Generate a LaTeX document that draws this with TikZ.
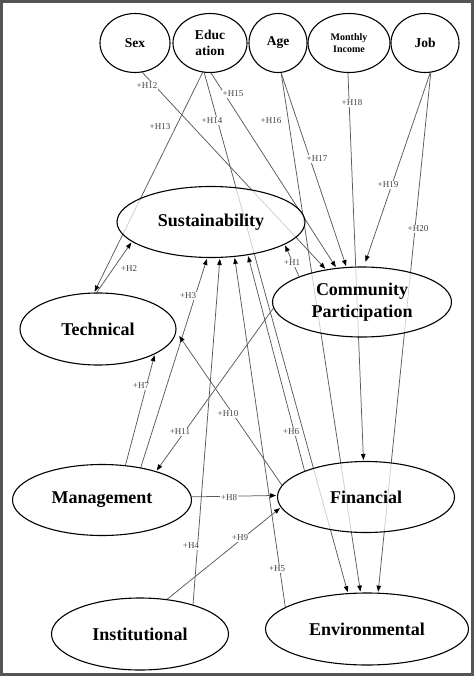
\documentclass[tikz,border=0pt]{standalone}
\usepackage{fontspec}
\setmainfont{Liberation Serif}
\usetikzlibrary{arrows.meta,shapes.geometric,backgrounds}
\definecolor{framegray}{RGB}{85,85,85}
\definecolor{linkgray}{RGB}{90,90,90}
\definecolor{labelgray}{RGB}{65,65,65}
\tikzset{
  construct/.style={ellipse, draw=black, line width=1.1pt, fill=white, fill opacity=0.7, text opacity=1,
    inner sep=1pt, align=center, font=\fontsize{18}{21.5}\selectfont\bfseries},
  demog/.style={construct, minimum height=59pt, font=\fontsize{13.5}{16}\selectfont\bfseries},
  hyp/.style={draw=linkgray, line width=0.75pt, shorten >=1pt, -{Triangle[length=6pt,width=4.5pt,color=black]}},
  hlab/.style={fill=white, inner sep=1pt, text=labelgray, font=\fontsize{9}{10}\selectfont},
}
\begin{document}
\begin{tikzpicture}[x=1pt, y=-1pt]
\useasboundingbox (0,0) rectangle (474,676);
% demographic variables
\foreach \nm/\x/\w/\txt in {sex/135/70/Sex, edu/210/74/{Educ\\ation}, age/278/58/Age, job/425/68/Job}
  \node[demog, minimum width=\w pt] (\nm) at (\x,43) {\txt};
\node[demog, minimum width=82pt, font=\fontsize{10}{12}\selectfont\bfseries] (inc) at (349,43) {Monthly\\Income};
% constructs
\node[construct, minimum width=188pt, minimum height=71pt] (sust) at (211,222) {Sustainability};
\node[construct, minimum width=179pt, minimum height=70pt] (cp) at (362,302) {Community\\Participation};
\node[construct, minimum width=156pt, minimum height=72pt] (tech) at (98,329) {Technical};
\node[construct, minimum width=179pt, minimum height=71pt] (mgmt) at (102,500) {Management};
\node[construct, minimum width=177pt, minimum height=71pt] (fin) at (366,497) {Financial};
\node[construct, minimum width=177pt, minimum height=72pt] (inst) at (140,634) {Institutional};
\node[construct, minimum width=203pt, minimum height=72pt] (env) at (367,629) {Environmental};
% hypotheses
\begin{scope}[on background layer]
\foreach \a/\p/\b/\q in {cp/158/sust/343, tech/92/sust/194, mgmt/40/sust/264, inst/29/sust/284,
    env/165/sust/304, fin/157/sust/318, mgmt/56/tech/336, mgmt/2/fin/179, inst/52/fin/187,
    cp/184/mgmt/28, sex/284/cp/138, edu/256/tech/96, edu/259/env/118, edu/272/cp/127,
    age/276/env/100, age/276/cp/114, inc/268/fin/94, job/281/env/73}
  \draw[hyp] (\a.\p) -- (\b.\q);
\draw[hyp, shorten >=5pt] (fin.172) -- (tech.358);
\draw[hyp, shorten >=5pt] (job.280) -- (cp.87);
\end{scope}
\foreach \n/\x/\y in {1/292/263, 2/129/269, 3/188/296, 4/191/546, 5/277/569, 6/291/432, 7/141/386,
    8/229/498, 9/240/538, 10/228/414, 11/180/432, 12/147/86, 13/160/127, 14/212/121,
    15/233/94, 16/271/121, 17/317/159, 18/352/103, 19/388/185, 20/418/229}
  \node[hlab] (h\n) at (\x,\y) {+H\n};
% frame
\draw[framegray, line width=3pt] (1.5,1.5) rectangle (472.5,674.5);
\end{tikzpicture}
\end{document}
